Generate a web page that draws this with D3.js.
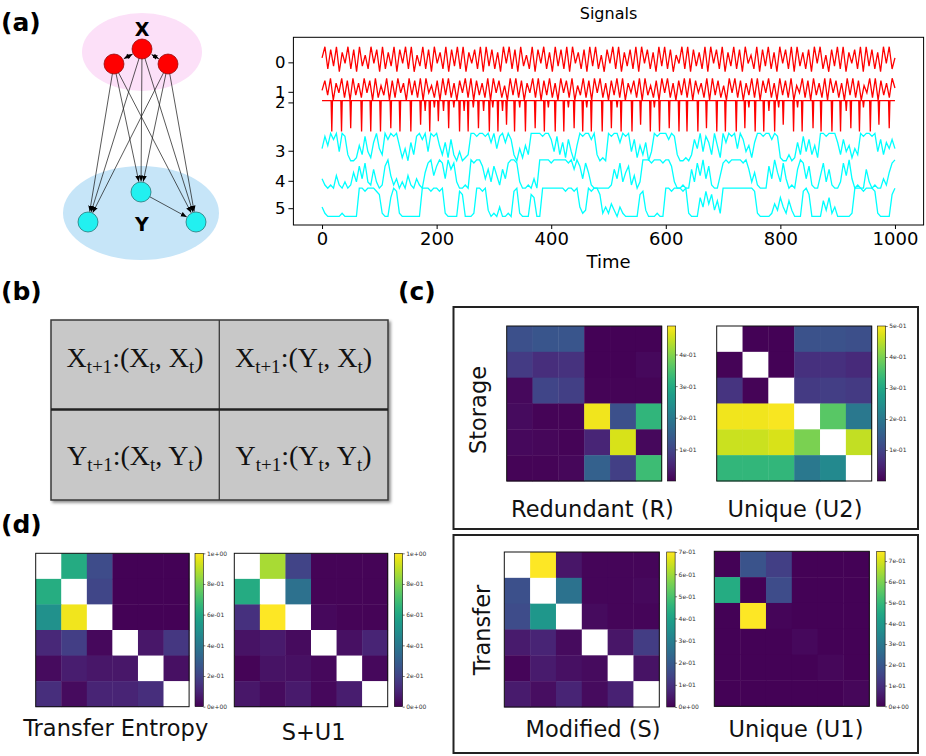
<!DOCTYPE html>
<html><head><meta charset="utf-8">
<script src="https://cdn.jsdelivr.net/npm/d3@7"></script>
<style>
body{margin:0;background:#fff}
svg{display:block}
</style>
</head><body>
<svg id="c" width="926" height="756" font-family="DejaVu Sans, sans-serif"></svg>
<script>
// ---------------- DATA ----------------
// Signals panel (values 0..9 within each trace's band, 9 = top of band)
const signalLabels = ["0","1","2","3","4","5"];
const signalTickPos = [0, 1.0, 1.36, 3.0, 4.02, 4.95];
const bandTop =    [-0.53, 0.54, 1.30, 2.41, 3.31, 4.27];
const bandBottom = [ 0.32, 1.28, 2.35, 3.34, 4.27, 5.23];
const signalColors = ["#ff0000","#ff0000","#ff0000","#00ffff","#00ffff","#00ffff"];
const timeTicks = [0,200,400,600,800,1000];

const sig0 = [5,9,1,8,2,9,0,7,3,9,1,8,0,9,2,6,1,9,3,8,0,9,1,7,2,9,0,8,3,9,1,9,0,6,2,9,1,8,0,9,3,7,1,9,0,8,2,9,1,9,0,7,3,8,1,9,0,9,2,8,1,7,0,9,3,9,1,8,0,9,2,6,1,9,0,8,3,9,1,7,0,9,2,8,1,9,0,9,3,7,1,8,0,9,2,9,1,6,0,8,3,9,1,9,0,7,2,8,1,9,0,9,3,8,1,7,0,9,2,9,1,8,0,6,3,9,1,9,0,8,2,7,1,9,0,9,3,8,1,9,0,7,2,9,1,8,0,9,3,6,1,9,0,8,2,9,1,7,0,9,3,8,1,9,0,9,2,7,1,8,0,9,3,9,1,6,0,8,2,9,1,9,0,7,3,8,1,9,0,9,2,8,1,7,0,9,3,9,1,5];
const sig1 = [4,8,2,9,0,7,3,9,1,8,0,9,2,7,1,9,3,8,0,9,1,6,2,9,0,8,1,9,3,7,0,9,2,8,1,9,0,9,3,6,1,8,0,9,2,9,1,7,0,8,3,9,1,9,0,8,2,7,1,9,0,9,3,8,1,6,0,9,2,9,1,8,0,7,3,9,1,9,0,8,2,9,1,7,0,9,3,8,1,9,0,6,2,9,1,8,0,9,3,9,1,7,0,8,2,9,1,9,0,7,3,8,1,9,0,9,2,6,1,8,0,9,3,9,1,7,0,8,2,9,1,9,0,8,3,7,1,9,0,9,2,8,1,6,0,9,3,9,1,8,0,7,2,9,1,9,0,8,3,9,1,7,0,9,2,8,1,9,0,6,3,9,1,8,0,9,2,7,1,9,0,9,3,8,1,7,0,9,2,9,1,8,0,6,3,9,1,9,0,8,2,7,1,9,5];
// signal 2: flat baseline with downward spikes (time, depth 0..9)
const sig2SpikeTimes = [17,34,50,69,85,102,120,136,155,172,180,188,196,203,212,221,230,240,248,255,264,273,282,292,298,307,315,322,336,345,355,372,388,395,407,422,430,440,455,462,470,489,505,515,522,541,556,573,580,589,606,623,637,656,671,689,704,723,738,745,756,771,780,790,797,805,823,830,838,857,871,890,905,915,923,938,945,957,972,990];
const sig2SpikeDepth = [9,9,8,9,9,9,8,9,9,7,3,9,2,6,3,8,2,9,3,9,2,8,3,9,2,9,3,7,9,2,9,8,9,2,9,9,2,8,9,2,9,9,8,2,9,9,7,9,2,9,8,9,9,9,8,9,9,9,8,2,9,9,3,9,2,7,9,2,9,8,9,9,9,3,8,9,2,9,7,8];
const sig3 = [4,8,5,9,7,9,3,9,8,2,0,0,1,5,2,8,3,1,6,9,4,2,9,7,9,8,9,5,1,4,0,6,2,8,9,7,9,3,9,8,9,5,2,6,1,7,2,0,3,0,1,2,9,9,8,9,9,8,9,6,9,4,8,9,6,9,7,2,0,4,1,5,2,9,9,9,9,8,9,9,7,3,8,2,6,1,7,3,0,5,9,8,9,9,7,9,2,0,1,0,9,8,9,9,6,9,8,9,3,7,1,5,2,6,0,3,9,8,9,9,9,7,9,8,2,0,0,1,0,2,7,4,9,3,8,6,2,9,5,1,9,6,9,8,9,4,9,7,3,5,1,6,9,9,8,9,9,7,9,8,1,0,0,2,0,1,6,2,8,3,7,2,5,1,9,9,8,9,9,9,6,2,7,3,5,1,4,2,9,8,9,9,8,9,3,7,2,6,4,7,4];
const sig4 = [3,1,0,1,0,4,1,0,2,0,1,5,2,7,3,8,2,1,6,2,0,1,7,9,4,1,3,0,2,0,4,1,0,3,1,0,5,8,9,4,7,9,8,3,9,6,8,2,0,0,1,0,9,8,9,9,7,3,6,2,7,4,1,6,3,8,9,9,8,2,0,0,1,0,3,0,9,9,9,9,8,9,9,9,9,9,8,9,6,9,7,3,8,5,1,0,0,0,0,0,0,1,6,3,8,2,5,7,1,4,0,2,9,9,9,8,9,9,9,8,9,9,7,2,0,0,1,0,0,6,2,8,4,9,3,7,1,0,0,4,8,9,8,9,9,9,9,8,9,6,2,5,1,0,0,0,7,3,9,5,2,8,3,0,1,0,6,9,8,3,7,1,0,0,4,8,2,6,1,0,0,2,8,4,9,3,0,1,0,0,6,2,0,1,0,0,3,1,5,8,9];
const sig5 = [3,1,0,0,0,0,0,1,0,0,0,0,0,9,9,8,9,9,9,8,7,1,0,0,6,9,8,1,0,0,0,0,0,0,0,9,9,9,8,9,9,8,9,1,0,0,0,0,8,7,0,0,0,1,9,9,8,9,2,0,1,0,3,0,0,1,0,8,9,1,0,0,0,7,6,0,0,9,9,9,9,9,9,9,9,8,9,9,8,9,3,1,2,9,8,9,9,7,1,3,1,4,2,0,3,1,0,0,0,0,0,7,8,2,0,0,0,1,0,0,9,9,8,9,9,9,8,9,1,0,0,0,6,3,8,4,7,2,5,1,9,9,9,9,9,9,9,9,9,9,9,8,1,0,0,0,0,1,4,2,6,3,1,5,2,0,0,0,8,9,7,0,0,0,0,5,2,6,1,3,0,0,0,0,0,1,9,9,9,8,9,9,9,8,1,0,0,0,0,7,9];

// Heatmaps (6x6, null = diagonal left blank)
const redundantR = [
 [0.12,0.13,0.13,0.003,0.003,0.003],
 [0.085,0.065,0.07,0.003,0.003,0.01],
 [0.01,0.10,0.09,0.005,0.004,0.005],
 [0.015,0.005,0.005,0.48,0.12,0.32],
 [0.01,0.008,0.005,0.05,0.46,0.01],
 [0.005,0.005,0.008,0.15,0.09,0.335]];
const uniqueU2 = [
 [null,0.003,0.003,0.125,0.125,0.12],
 [0.005,null,0.003,0.07,0.07,0.06],
 [0.075,0.005,null,0.085,0.09,0.085],
 [0.49,0.49,0.495,null,0.37,0.2],
 [0.46,0.46,0.47,0.40,null,0.455],
 [0.33,0.33,0.33,0.2,0.235,null]];
const modifiedS = [
 [null,0.70,0.04,0.01,0.01,0.01],
 [0.17,null,0.265,0.01,0.01,0.015],
 [0.16,0.37,null,0.02,0.01,0.01],
 [0.05,0.07,0.02,null,0.04,0.125],
 [0.01,0.05,0.03,0.02,null,0.035],
 [0.05,0.025,0.07,0.02,0.065,null]];
const uniqueU1 = [
 [0.005,0.19,0.14,0.003,0.003,0.003],
 [0.46,0.005,0.17,0.003,0.003,0.003],
 [0.003,0.747,0.01,0.003,0.003,0.003],
 [0.003,0.003,0.003,0.015,0.003,0.003],
 [0.003,0.003,0.003,0.003,0.012,0.003],
 [0.003,0.003,0.003,0.003,0.003,0.012]];
const transferEntropy = [
 [null,0.61,0.23,0.005,0.005,0.005],
 [0.62,null,0.21,0.005,0.005,0.005],
 [0.5,0.98,null,0.005,0.005,0.005],
 [0.11,0.18,0.02,null,0.06,0.16],
 [0.03,0.08,0.06,0.06,null,0.04],
 [0.13,0.03,0.1,0.1,0.13,null]];
const sPlusU1 = [
 [null,0.87,0.2,0.01,0.01,0.01],
 [0.61,null,0.37,0.01,0.01,0.01],
 [0.14,1.0,null,0.02,0.01,0.01],
 [0.05,0.07,0.03,null,0.04,0.1],
 [0.01,0.05,0.04,0.02,null,0.02],
 [0.06,0.03,0.07,0.02,0.08,null]];
const ticksR = [0.1,0.2,0.3,0.4];
const ticksU2 = [0.1,0.2,0.3,0.4,0.5];
const ticksS = [0,0.1,0.2,0.3,0.4,0.5,0.6,0.7];
const ticksU1 = [0,0.1,0.2,0.3,0.4,0.5,0.6,0.7];
const ticksTE = [0,0.2,0.4,0.6,0.8,1.0];

// Network (a)
const netNodes = [
 {id:"x0",x:114,y:64,g:"X"},{id:"x1",x:142,y:49,g:"X"},{id:"x2",x:168,y:64,g:"X"},
 {id:"y0",x:88,y:222,g:"Y"},{id:"y1",x:141,y:192,g:"Y"},{id:"y2",x:196,y:222,g:"Y"}];
const netEdges = [];
["x0","x1","x2"].forEach(s=>["y0","y1","y2"].forEach(t=>netEdges.push([s,t,false])));
netEdges.push(["x0","x1",true],["x1","x2",true],["y1","y2",false]);

// ---------------- DRAW ----------------
const svg = d3.select("#c");
const defs = svg.append("defs");
const grad = defs.append("linearGradient").attr("id","vir").attr("x1",0).attr("y1",0).attr("x2",0).attr("y2",1);
d3.range(0,21).forEach(i=>grad.append("stop").attr("offset",i/20).attr("stop-color",d3.interpolateViridis(1-i/20)));
defs.append("marker").attr("id","arr").attr("viewBox","0 0 10 10").attr("refX",10).attr("refY",5)
 .attr("markerWidth",6).attr("markerHeight",6).attr("orient","auto-start-reverse").attr("markerUnits","userSpaceOnUse")
 .append("path").attr("d","M0,1 L10,5 L0,9 z").attr("fill","#000");
const shadow = defs.append("filter").attr("id","shd").attr("x","-5%").attr("y","-5%").attr("width","115%").attr("height","115%");
shadow.append("feDropShadow").attr("dx",2).attr("dy",2).attr("stdDeviation",1.5).attr("flood-color","#000").attr("flood-opacity",0.45);

// panel labels
[["(a)",1,31],["(b)",1,300],["(c)",398,300],["(d)",1,533]].forEach(([t,x,y])=>
  svg.append("text").attr("x",x).attr("y",y).attr("font-size",25).attr("font-weight","bold").text(t));

// ---- (a) network ----
const ga = svg.append("g");
ga.append("ellipse").attr("cx",142).attr("cy",52).attr("rx",60).attr("ry",39).attr("fill","#fce0f8");
ga.append("ellipse").attr("cx",141).attr("cy",213).attr("rx",78).attr("ry",47).attr("fill","#c6e5f8");
const byId = Object.fromEntries(netNodes.map(n=>[n.id,n]));
const R = 10;
netEdges.forEach(([s,t,both])=>{
  const a=byId[s], b=byId[t];
  const dx=b.x-a.x, dy=b.y-a.y, L=Math.hypot(dx,dy);
  const ux=dx/L, uy=dy/L;
  const ln = ga.append("line")
   .attr("x1",a.x+ux*(both?R+1:R*0.6)).attr("y1",a.y+uy*(both?R+1:R*0.6))
   .attr("x2",b.x-ux*(R+0.5)).attr("y2",b.y-uy*(R+0.5))
   .attr("stroke","#111").attr("stroke-width",0.7).attr("marker-end","url(#arr)");
  if(both) ln.attr("marker-start","url(#arr)");
});
ga.selectAll("circle.n").data(netNodes).join("circle").attr("class","n")
 .attr("cx",d=>d.x).attr("cy",d=>d.y).attr("r",R)
 .attr("fill",d=>d.g==="X"?"#ff0000":"#22f0f0").attr("stroke",d=>d.g==="X"?"#8a0000":"#1a6a6a").attr("stroke-width",0.7);
ga.append("text").attr("x",142).attr("y",36).attr("text-anchor","middle").attr("font-size",19).attr("font-weight","bold").text("X");
ga.append("text").attr("x",142).attr("y",231).attr("text-anchor","middle").attr("font-size",19).attr("font-weight","bold").text("Y");

// ---- Signals ----
const xS = d3.scaleLinear().domain([-50,1050]).range([293.4,923.6]);
const yS = d3.scaleLinear().domain([-0.85,5.52]).range([37.3,225]);
const gs = svg.append("g");
gs.append("text").attr("x",608.5).attr("y",19).attr("text-anchor","middle").attr("font-size",16).text("Signals");
const bandY = (i,v)=> bandTop[i] + (9-v)/9*(bandBottom[i]-bandTop[i]);
const line = d3.line().x(d=>xS(d[0])).y(d=>yS(d[1]));
const series = [sig0,sig1,null,sig3,sig4,sig5];
series.forEach((arr,i)=>{
  let pts;
  if(arr){
    const step = 1000/(arr.length-1);
    pts = arr.map((v,k)=>[k*step, bandY(i,v)]);
  } else {
    pts=[[0,bandTop[2]]];
    sig2SpikeTimes.forEach((t,k)=>{
      pts.push([t-1.2,bandTop[2]],[t,bandY(2,9-sig2SpikeDepth[k])],[t+1.2,bandTop[2]]);
    });
    pts.push([1000,bandTop[2]]);
  }
  gs.append("path").attr("d",line(pts)).attr("fill","none").attr("stroke",signalColors[i]).attr("stroke-width",1.3);
});
gs.append("rect").attr("x",293.4).attr("y",37.3).attr("width",630.2).attr("height",187.7).attr("fill","none").attr("stroke","#000").attr("stroke-width",1);
const xAx = gs.append("g").attr("transform","translate(0,225)")
 .call(d3.axisBottom(xS).tickValues(timeTicks).tickSize(4).tickPadding(3).tickFormat(d3.format("d")));
xAx.select(".domain").remove();
xAx.selectAll("text").attr("font-size",18).attr("font-family","DejaVu Sans").attr("fill","#000");
const yAx = gs.append("g").attr("transform","translate(293.4,0)")
 .call(d3.axisLeft(yS).tickValues(signalTickPos).tickSize(5).tickPadding(3).tickFormat((d,i)=>signalLabels[i]));
yAx.select(".domain").remove();
yAx.selectAll("text").attr("font-size",16.5).attr("font-family","DejaVu Sans").attr("fill","#000");
gs.append("text").attr("x",608.5).attr("y",268).attr("text-anchor","middle").attr("font-size",18).text("Time");

// ---- (b) table ----
const gb = svg.append("g");
gb.append("rect").attr("x",51).attr("y",320).attr("width",337).attr("height",180).attr("fill","#c8c8c8").attr("stroke","#3a3a3a").attr("stroke-width",1.5).attr("filter","url(#shd)");
gb.append("line").attr("x1",219.3).attr("x2",219.3).attr("y1",320).attr("y2",500).attr("stroke","#3a3a3a").attr("stroke-width",1.3);
gb.append("line").attr("x1",51).attr("x2",388).attr("y1",409.5).attr("y2",409.5).attr("stroke","#222").attr("stroke-width",2.4);
const cells = [["X","X","X",135,366.5],["X","Y","X",303.5,366.5],["Y","X","Y",135,465],["Y","Y","Y",303.5,465]];
cells.forEach(([m,a,b,cx,by])=>{
  const t = gb.append("text").attr("x",cx).attr("y",by).attr("text-anchor","middle")
   .style("font-family","'Liberation Serif', 'DejaVu Serif', serif").attr("font-size",28).attr("fill","#111");
  t.append("tspan").text(m);
  t.append("tspan").attr("dy",6).attr("font-size",19).text("t+1");
  t.append("tspan").attr("dy",-6).text(":(");
  t.append("tspan").text(a);
  t.append("tspan").attr("dy",6).attr("font-size",19).text("t");
  t.append("tspan").attr("dy",-6).text(", ");
  t.append("tspan").text(b);
  t.append("tspan").attr("dy",6).attr("font-size",19).text("t");
  t.append("tspan").attr("dy",-6).text(")");
});

// ---- heatmaps ----
const fmtExp = v=>{ const [m,e]=v.toExponential(0).split("e"); return m+"e"+e[0]+e.slice(1).padStart(2,"0"); };
function heatmap(data, vmax, x0, y0, size, cbx, ticks){
  const g = svg.append("g");
  const xs = d3.scaleBand().domain(d3.range(6)).range([x0,x0+size]);
  const ys = d3.scaleBand().domain(d3.range(6)).range([y0,y0+size]);
  const col = d3.scaleSequential(d3.interpolateViridis).domain([0,vmax]);
  const cellsData = data.flatMap((row,r)=>row.map((v,c)=>({r,c,v})));
  g.selectAll("rect.cell").data(cellsData).join("rect").attr("class","cell")
   .attr("x",d=>xs(d.c)).attr("y",d=>ys(d.r)).attr("width",xs.bandwidth()+0.4).attr("height",ys.bandwidth()+0.4)
   .attr("fill",d=>d.v==null?"#ffffff":col(Math.min(d.v,vmax)));
  g.append("rect").attr("x",x0).attr("y",y0).attr("width",size).attr("height",size).attr("fill","none").attr("stroke","#111").attr("stroke-width",1);
  const cw = 8.4;
  g.append("rect").attr("x",cbx).attr("y",y0).attr("width",cw).attr("height",size).attr("fill","url(#vir)").attr("stroke","#111").attr("stroke-width",0.6);
  const cs = d3.scaleLinear().domain([0,vmax]).range([y0+size,y0]);
  const ax = g.append("g").attr("transform",`translate(${cbx+cw},0)`)
   .call(d3.axisRight(cs).tickValues(ticks).tickSize(2).tickPadding(1.5).tickFormat(fmtExp));
  ax.select(".domain").remove();
  ax.selectAll("line").attr("stroke","#222").attr("stroke-width",0.6);
  ax.selectAll("text").attr("font-size",6).attr("font-family","DejaVu Sans").attr("fill","#333");
}
heatmap(redundantR, 0.49, 506.7, 326, 155, 667.3, ticksR);
heatmap(uniqueU2, 0.5, 716.7, 326, 155, 877.3, ticksU2);
heatmap(modifiedS, 0.70, 504.3, 552, 155, 666.7, ticksS);
heatmap(uniqueU1, 0.747, 714.3, 551.3, 155, 876.7, ticksU1);
heatmap(transferEntropy, 1.0, 35.7, 553.3, 153.4, 195, ticksTE);
heatmap(sPlusU1, 1.0, 234.3, 553.3, 153.4, 394.3, ticksTE);

// ---- (c) frames & labels ----
svg.append("rect").attr("x",453.5).attr("y",307).attr("width",464.5).attr("height",222).attr("fill","none").attr("stroke","#222").attr("stroke-width",2);
svg.append("rect").attr("x",453.5).attr("y",535).attr("width",464.5).attr("height",218).attr("fill","none").attr("stroke","#222").attr("stroke-width",2);
const lab = (t,x,y,rot)=>{ const e=svg.append("text").attr("text-anchor","middle").attr("font-size",22.5).attr("fill","#111").text(t);
  if(rot) e.attr("transform",`translate(${x},${y}) rotate(-90)`).attr("dy","0.35em"); else e.attr("x",x).attr("y",y); };
lab("Redundant (R)",592.5,517);
lab("Unique (U2)",795,517);
lab("Modified (S)",593,737);
lab("Unique (U1)",796,737);
lab("Storage",478,410,true);
lab("Transfer",481.7,630,true);
lab("Transfer Entropy",115.7,735.5);
lab("S+U1",313.7,740);
</script>
</body></html>
